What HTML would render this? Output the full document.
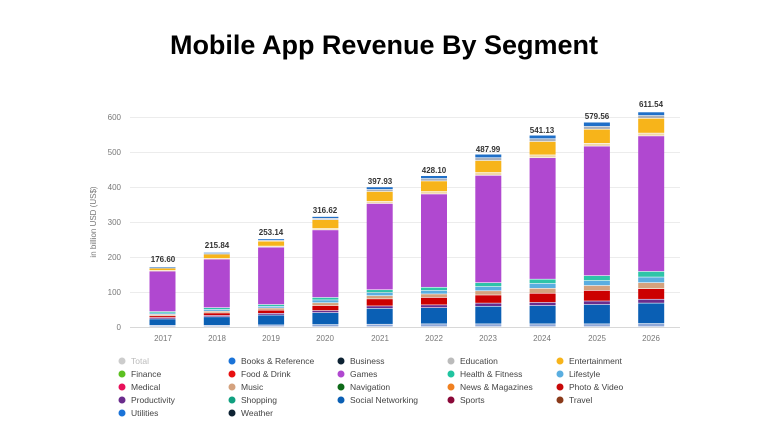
<!DOCTYPE html>
<html><head><meta charset="utf-8"><style>
body{margin:0;width:768px;height:432px;background:#fff;overflow:hidden;font-family:"Liberation Sans",sans-serif}
</style></head><body>
<svg width="768" height="432" xmlns="http://www.w3.org/2000/svg">
<text x="384" y="54" text-anchor="middle" font-family="Liberation Sans, sans-serif" font-weight="bold" font-size="27" fill="#000">Mobile App Revenue By Segment</text>
<g stroke="#ececec" stroke-width="1">
<line x1="130" x2="680" y1="117.5" y2="117.5"/><line x1="130" x2="680" y1="152.5" y2="152.5"/>
<line x1="130" x2="680" y1="187.5" y2="187.5"/><line x1="130" x2="680" y1="222.5" y2="222.5"/>
<line x1="130" x2="680" y1="257.5" y2="257.5"/><line x1="130" x2="680" y1="292.5" y2="292.5"/>
<line x1="130" x2="680" y1="327.5" y2="327.5" stroke="#d8d8d8"/>
</g>
<g font-size="8" fill="#777" text-anchor="end">
<text x="121" y="120">600</text><text x="121" y="155">500</text><text x="121" y="190">400</text>
<text x="121" y="225">300</text><text x="121" y="260">200</text><text x="121" y="295">100</text><text x="121" y="330">0</text>
</g>
<text transform="translate(96,222) rotate(-90)" text-anchor="middle" font-size="8" fill="#777">in billion USD (US$)</text>
<g id="bars"></g>
<g font-size="8" fill="#777" text-anchor="middle">
<text x="163" y="341">2017</text><text x="217" y="341">2018</text><text x="271" y="341">2019</text><text x="325" y="341">2020</text><text x="380" y="341">2021</text><text x="434" y="341">2022</text><text x="488" y="341">2023</text><text x="542" y="341">2024</text><text x="597" y="341">2025</text><text x="651" y="341">2026</text>
</g>
<g font-size="8" font-weight="bold" fill="#333" text-anchor="middle">
<text x="163" y="262">176.60</text><text x="217" y="248">215.84</text><text x="271" y="235">253.14</text><text x="325" y="213">316.62</text><text x="380" y="184">397.93</text><text x="434" y="173">428.10</text><text x="488" y="152">487.99</text><text x="542" y="133">541.13</text><text x="597" y="119">579.56</text><text x="651" y="107">611.54</text>
</g>
<g font-size="8.5" fill="#444" id="leg">
<circle cx="122" cy="361" r="3.5" fill="#ccc"/><text x="131" y="364" fill="#bbb">Total</text>
<circle cx="232" cy="361" r="3.5" fill="#1a73d8"/><text x="241" y="364">Books &amp; Reference</text>
<circle cx="341" cy="361" r="3.5" fill="#0d2233"/><text x="350" y="364">Business</text>
<circle cx="451" cy="361" r="3.5" fill="#bbb"/><text x="460" y="364">Education</text>
<circle cx="560" cy="361" r="3.5" fill="#f7b41a"/><text x="569" y="364">Entertainment</text>
<circle cx="122" cy="374" r="3.5" fill="#5cc020"/><text x="131" y="377">Finance</text>
<circle cx="232" cy="374" r="3.5" fill="#e81010"/><text x="241" y="377">Food &amp; Drink</text>
<circle cx="341" cy="374" r="3.5" fill="#b048d0"/><text x="350" y="377">Games</text>
<circle cx="451" cy="374" r="3.5" fill="#20c4a0"/><text x="460" y="377">Health &amp; Fitness</text>
<circle cx="560" cy="374" r="3.5" fill="#5aaee0"/><text x="569" y="377">Lifestyle</text>
<circle cx="122" cy="387" r="3.5" fill="#e8105a"/><text x="131" y="390">Medical</text>
<circle cx="232" cy="387" r="3.5" fill="#d4a27e"/><text x="241" y="390">Music</text>
<circle cx="341" cy="387" r="3.5" fill="#0e6a18"/><text x="350" y="390">Navigation</text>
<circle cx="451" cy="387" r="3.5" fill="#f08020"/><text x="460" y="390">News &amp; Magazines</text>
<circle cx="560" cy="387" r="3.5" fill="#c80808"/><text x="569" y="390">Photo &amp; Video</text>
<circle cx="122" cy="400" r="3.5" fill="#6a2c8c"/><text x="131" y="403">Productivity</text>
<circle cx="232" cy="400" r="3.5" fill="#10a080"/><text x="241" y="403">Shopping</text>
<circle cx="341" cy="400" r="3.5" fill="#0a5fb4"/><text x="350" y="403">Social Networking</text>
<circle cx="451" cy="400" r="3.5" fill="#8a0838"/><text x="460" y="403">Sports</text>
<circle cx="560" cy="400" r="3.5" fill="#8a3a1a"/><text x="569" y="403">Travel</text>
<circle cx="122" cy="413" r="3.5" fill="#1a73d8"/><text x="131" y="416">Utilities</text>
<circle cx="232" cy="413" r="3.5" fill="#0d2233"/><text x="241" y="416">Weather</text>
</g>
</svg>
<script>
var cols=['#8fa8d8','#0a5fb4','#6a2c8c','#cc0000','#d4a27e','#5aaee0','#2ec4a8','#b048d0','#f0d8a8','#f7b41a','#aab0bb','#1f6fc8'];
var d=[[4,18,4,5,4,4,4,115,2,6,2,2],[4,24,4,7,5,5,5,138,2,12,2,3],[5,28,5,9,6,5,5,163,3,14,3,4],[6,34,6,14,8,8,7,192,4,25,4,5],[7,45,7,20,9,9,8,245,6,28,6,7],[8,46,8,21,10,10,9,265,7,30,7,8],[8,50,9,23,12,12,11,305,8,34,8,10],[8,52,9,26,14,14,12,345,8,38,8,10],[8,55,10,30,14,14,14,368,8,40,8,12],[9,58,11,30,17,16,16,385,8,42,8,10]];
var g=document.getElementById('bars'),s='',k=0.352;
d.forEach(function(r,i){var cx=162.5+i*54.3,v=0;r.forEach(function(x,j){var y1=327-v*k,y0=327-(v+x)*k;s+='<rect x="'+(cx-13)+'" y="'+y0+'" width="26" height="'+Math.max(0.5,y1-y0-0.6)+'" fill="'+cols[j]+'"/>';v+=x;});});
g.innerHTML=s;
</script>
</body></html>
